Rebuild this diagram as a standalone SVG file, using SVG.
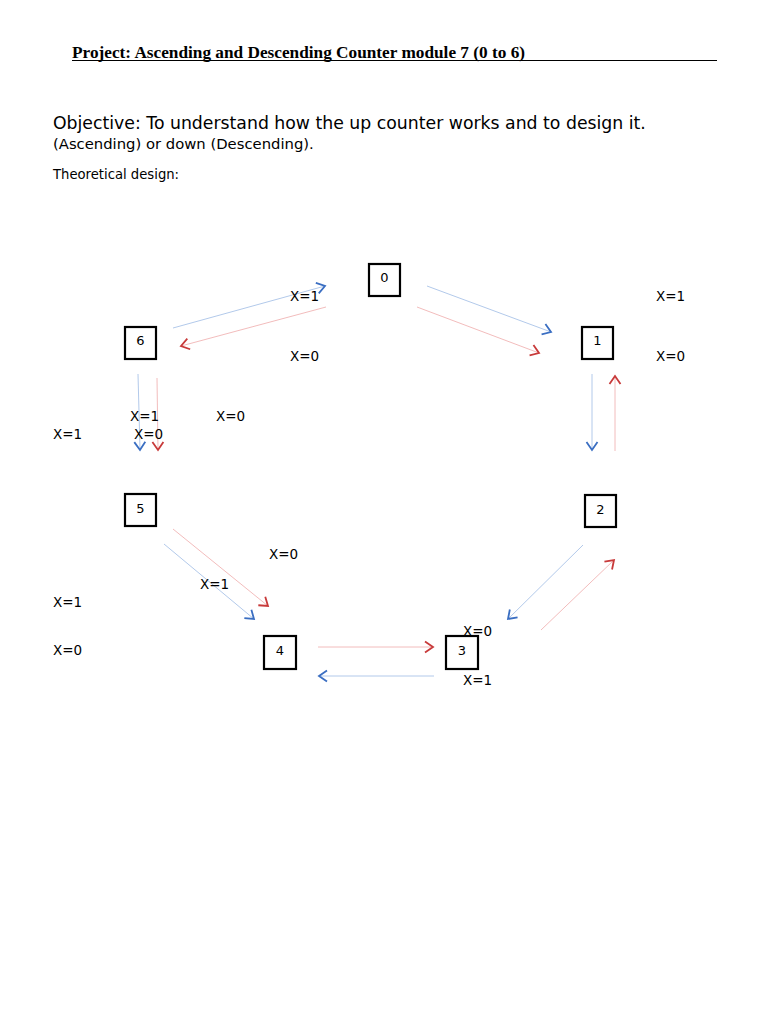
<svg xmlns="http://www.w3.org/2000/svg" width="768" height="1024" viewBox="0 0 768 1024">
<style>
.t{font-family:"DejaVu Sans",Verdana,sans-serif;fill:#000}
.lbl{font-size:13.5px}
.box{fill:#fff;stroke:#000;stroke-width:2.2}
.num{font-family:"DejaVu Sans",Verdana,sans-serif;font-size:13px;text-anchor:middle}
.b{stroke:#a9c3e8;stroke-width:0.9;fill:none}
.r{stroke:#f0b4b4;stroke-width:0.9;fill:none}
</style>
<defs>
<marker id="ab" markerUnits="userSpaceOnUse" markerWidth="20" markerHeight="20" viewBox="-10 -10 20 20" refX="0" refY="0" orient="auto">
<path d="M-8,-5.5 L0,0 L-8,5.5" fill="none" stroke="#3a6ec2" stroke-width="1.8"/>
</marker>
<marker id="ar" markerUnits="userSpaceOnUse" markerWidth="20" markerHeight="20" viewBox="-10 -10 20 20" refX="0" refY="0" orient="auto">
<path d="M-8,-5.5 L0,0 L-8,5.5" fill="none" stroke="#c83a3a" stroke-width="1.8"/>
</marker>
</defs>
<rect width="768" height="1024" fill="#fff"/>
<text x="72" y="58" font-family="'Liberation Serif','Times New Roman',serif" font-weight="bold" font-size="17" textLength="453" lengthAdjust="spacingAndGlyphs">Project: Ascending and Descending Counter module 7 (0 to 6)</text>
<line x1="72" y1="60.5" x2="717" y2="60.5" stroke="#000" stroke-width="1"/>
<text class="t" x="53" y="129" font-size="17.3">Objective: To understand how the up counter works and to design it.</text>
<text class="t" x="53" y="149" font-size="14.8">(Ascending) or down (Descending).</text>
<text class="t" x="53" y="179" font-size="13.2">Theoretical design:</text>
<g id="connectors">
<line class="b" x1="173" y1="328" x2="325" y2="286" marker-end="url(#ab)"/>
<line class="r" x1="326" y1="307" x2="181" y2="346" marker-end="url(#ar)"/>
<line class="b" x1="427" y1="286" x2="551" y2="332" marker-end="url(#ab)"/>
<line class="r" x1="417" y1="307" x2="539" y2="353" marker-end="url(#ar)"/>
<line class="b" x1="592" y1="374" x2="592" y2="450" marker-end="url(#ab)"/>
<line class="r" x1="615" y1="451" x2="615" y2="376" marker-end="url(#ar)"/>
<line class="b" x1="583" y1="545" x2="508" y2="619" marker-end="url(#ab)"/>
<line class="r" x1="541" y1="630" x2="614" y2="560" marker-end="url(#ar)"/>
<line class="b" x1="434" y1="676" x2="319" y2="676" marker-end="url(#ab)"/>
<line class="r" x1="318" y1="647" x2="433" y2="647" marker-end="url(#ar)"/>
<line class="b" x1="164" y1="544" x2="254" y2="619" marker-end="url(#ab)"/>
<line class="r" x1="173" y1="529" x2="268" y2="606" marker-end="url(#ar)"/>
<line class="b" x1="138" y1="374" x2="140" y2="450" marker-end="url(#ab)"/>
<line class="r" x1="157" y1="378" x2="158" y2="450" marker-end="url(#ar)"/>
</g>
<g id="node0"><rect class="box" x="369" y="264" width="31" height="32"/><text class="num" x="384.5" y="282">0</text></g>
<g id="node1"><rect class="box" x="582" y="327" width="31" height="32"/><text class="num" x="597.5" y="345">1</text></g>
<g id="node2"><rect class="box" x="585" y="495" width="31" height="32"/><text class="num" x="600.5" y="514">2</text></g>
<g id="node3"><rect class="box" x="446" y="636" width="32" height="33"/><text class="num" x="462" y="655">3</text></g>
<g id="node4"><rect class="box" x="264" y="636" width="32" height="33"/><text class="num" x="280" y="655">4</text></g>
<g id="node5"><rect class="box" x="125" y="494" width="31" height="32"/><text class="num" x="140.5" y="513">5</text></g>
<g id="node6"><rect class="box" x="125" y="327" width="31" height="32"/><text class="num" x="140.5" y="345">6</text></g>
<g id="labels">
<text class="t lbl" x="290" y="301">X=1</text>
<text class="t lbl" x="290" y="361">X=0</text>
<text class="t lbl" x="656" y="301">X=1</text>
<text class="t lbl" x="656" y="361">X=0</text>
<text class="t lbl" x="130" y="421">X=1</text>
<text class="t lbl" x="216" y="421">X=0</text>
<text class="t lbl" x="53" y="439">X=1</text>
<text class="t lbl" x="134" y="439">X=0</text>
<text class="t lbl" x="269" y="559">X=0</text>
<text class="t lbl" x="200" y="589">X=1</text>
<text class="t lbl" x="53" y="607">X=1</text>
<text class="t lbl" x="53" y="655">X=0</text>
<text class="t lbl" x="463" y="636">X=0</text>
<text class="t lbl" x="463" y="685">X=1</text>
</g>
</svg>
